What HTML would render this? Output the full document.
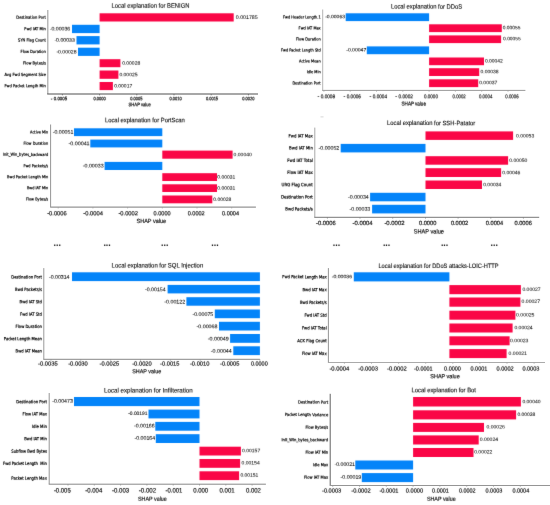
<!DOCTYPE html>
<html lang="en">
<head>
<meta charset="utf-8">
<title>Local SHAP explanations</title>
<style>
html,body{margin:0;padding:0;background:#fff;}
body{width:550px;height:505px;overflow:hidden;font-family:"Liberation Sans",sans-serif;}
svg{display:block;}
text{white-space:pre;}
</style>
</head>
<body>
<svg width="550" height="505" viewBox="0 0 550 505" xml:space="preserve">
<defs><filter id="soft" x="0" y="0" width="550" height="505" filterUnits="userSpaceOnUse" color-interpolation-filters="sRGB"><feConvolveMatrix order="3" kernelMatrix="0.0049 0.0602 0.0049 0.0602 0.7396 0.0602 0.0049 0.0602 0.0049" divisor="1" edgeMode="duplicate" preserveAlpha="false"/></filter></defs>
<rect x="0" y="0" width="550" height="505" fill="#ffffff"/>
<g filter="url(#soft)">
<g>
<rect x="99.60" y="13.30" width="134.10" height="8.20" fill="#fa0646"/>
<rect x="72.00" y="24.80" width="27.60" height="8.30" fill="#0484f9"/>
<rect x="76.50" y="36.10" width="23.10" height="8.30" fill="#0484f9"/>
<rect x="78.00" y="47.70" width="21.60" height="8.20" fill="#0484f9"/>
<rect x="99.60" y="59.20" width="20.80" height="8.00" fill="#fa0646"/>
<rect x="99.60" y="70.50" width="18.80" height="8.30" fill="#fa0646"/>
<rect x="99.60" y="82.00" width="13.30" height="8.10" fill="#fa0646"/>
<text x="111.60" y="7.80" font-family="'Liberation Sans', sans-serif" font-size="6.40" font-weight="normal" fill="#0a0a0a" stroke="#0a0a0a" stroke-width="0.12" text-anchor="start" transform="rotate(0.04 111.60 7.80)" textLength="77.80" lengthAdjust="spacingAndGlyphs">Local explanation for BENIGN</text>
<text x="16.30" y="18.65" font-family="'DejaVu Sans', sans-serif" font-size="4.18" font-weight="normal" fill="#000" stroke="#000" stroke-width="0.2" text-anchor="start" transform="rotate(0.04 16.30 18.65)" textLength="29.60" lengthAdjust="spacingAndGlyphs">Destination Port</text>
<text x="235.80" y="19.04" font-family="'Liberation Sans', sans-serif" font-size="5.25" font-weight="normal" fill="#0a0a0a" stroke="#0a0a0a" stroke-width="0.05" text-anchor="start" transform="rotate(0.04 235.80 19.04)" textLength="21.90" lengthAdjust="spacingAndGlyphs">0.001785</text>
<text x="24.30" y="30.20" font-family="'DejaVu Sans', sans-serif" font-size="4.18" font-weight="normal" fill="#000" stroke="#000" stroke-width="0.2" text-anchor="start" transform="rotate(0.04 24.30 30.20)" textLength="21.60" lengthAdjust="spacingAndGlyphs">Fwd IAT Min</text>
<text x="49.70" y="30.57" font-family="'Liberation Sans', sans-serif" font-size="5.19" font-weight="normal" fill="#0a0a0a" stroke="#0a0a0a" stroke-width="0.08" text-anchor="start" transform="rotate(0.04 49.70 30.57)" textLength="20.50" lengthAdjust="spacingAndGlyphs">-0.00036</text>
<text x="18.10" y="41.50" font-family="'DejaVu Sans', sans-serif" font-size="4.18" font-weight="normal" fill="#000" stroke="#000" stroke-width="0.2" text-anchor="start" transform="rotate(0.04 18.10 41.50)" textLength="27.80" lengthAdjust="spacingAndGlyphs">SYN Flag Count</text>
<text x="54.40" y="41.86" font-family="'Liberation Sans', sans-serif" font-size="5.17" font-weight="normal" fill="#0a0a0a" stroke="#0a0a0a" stroke-width="0.08" text-anchor="start" transform="rotate(0.04 54.40 41.86)" textLength="20.40" lengthAdjust="spacingAndGlyphs">-0.00033</text>
<text x="20.60" y="53.05" font-family="'DejaVu Sans', sans-serif" font-size="4.18" font-weight="normal" fill="#000" stroke="#000" stroke-width="0.2" text-anchor="start" transform="rotate(0.04 20.60 53.05)" textLength="25.30" lengthAdjust="spacingAndGlyphs">Flow Duration</text>
<text x="56.40" y="53.38" font-family="'Liberation Sans', sans-serif" font-size="5.09" font-weight="normal" fill="#0a0a0a" stroke="#0a0a0a" stroke-width="0.08" text-anchor="start" transform="rotate(0.04 56.40 53.38)" textLength="20.10" lengthAdjust="spacingAndGlyphs">-0.00028</text>
<text x="23.10" y="64.45" font-family="'DejaVu Sans', sans-serif" font-size="4.18" font-weight="normal" fill="#000" stroke="#000" stroke-width="0.2" text-anchor="start" transform="rotate(0.04 23.10 64.45)" textLength="22.80" lengthAdjust="spacingAndGlyphs">Flow Bytes/s</text>
<text x="122.20" y="64.74" font-family="'Liberation Sans', sans-serif" font-size="4.98" font-weight="normal" fill="#0a0a0a" stroke="#0a0a0a" stroke-width="0.05" text-anchor="start" transform="rotate(0.04 122.20 64.74)" textLength="18.00" lengthAdjust="spacingAndGlyphs">0.00028</text>
<text x="4.50" y="75.90" font-family="'DejaVu Sans', sans-serif" font-size="4.18" font-weight="normal" fill="#000" stroke="#000" stroke-width="0.2" text-anchor="start" transform="rotate(0.04 4.50 75.90)" textLength="41.40" lengthAdjust="spacingAndGlyphs">Avg Fwd Segment Size</text>
<text x="119.40" y="76.20" font-family="'Liberation Sans', sans-serif" font-size="5.01" font-weight="normal" fill="#0a0a0a" stroke="#0a0a0a" stroke-width="0.05" text-anchor="start" transform="rotate(0.04 119.40 76.20)" textLength="18.10" lengthAdjust="spacingAndGlyphs">0.00025</text>
<text x="4.50" y="87.30" font-family="'DejaVu Sans', sans-serif" font-size="4.18" font-weight="normal" fill="#000" stroke="#000" stroke-width="0.2" text-anchor="start" transform="rotate(0.04 4.50 87.30)" textLength="41.40" lengthAdjust="spacingAndGlyphs">Fwd Packet Length Min</text>
<text x="114.20" y="87.59" font-family="'Liberation Sans', sans-serif" font-size="4.98" font-weight="normal" fill="#0a0a0a" stroke="#0a0a0a" stroke-width="0.05" text-anchor="start" transform="rotate(0.04 114.20 87.59)" textLength="18.00" lengthAdjust="spacingAndGlyphs">0.00017</text>
<text x="50.80" y="100.20" transform="rotate(0.04 50.80 98.40)" font-family="'Liberation Sans', sans-serif" font-size="4.99" fill="#0a0a0a" stroke="#0a0a0a" stroke-width="0.2">-<tspan x="53.79" textLength="13.31" lengthAdjust="spacingAndGlyphs">0.0005</tspan></text>
<text x="93.40" y="100.20" font-family="'Liberation Sans', sans-serif" font-size="4.99" font-weight="normal" fill="#0a0a0a" stroke="#0a0a0a" stroke-width="0.2" text-anchor="start" transform="rotate(0.04 93.40 100.20)" textLength="12.30" lengthAdjust="spacingAndGlyphs">0.0000</text>
<text x="130.30" y="100.20" font-family="'Liberation Sans', sans-serif" font-size="4.99" font-weight="normal" fill="#0a0a0a" stroke="#0a0a0a" stroke-width="0.2" text-anchor="start" transform="rotate(0.04 130.30 100.20)" textLength="12.10" lengthAdjust="spacingAndGlyphs">0.0005</text>
<text x="169.50" y="100.20" font-family="'Liberation Sans', sans-serif" font-size="4.99" font-weight="normal" fill="#0a0a0a" stroke="#0a0a0a" stroke-width="0.2" text-anchor="start" transform="rotate(0.04 169.50 100.20)" textLength="12.20" lengthAdjust="spacingAndGlyphs">0.0010</text>
<text x="205.90" y="100.20" font-family="'Liberation Sans', sans-serif" font-size="4.99" font-weight="normal" fill="#0a0a0a" stroke="#0a0a0a" stroke-width="0.2" text-anchor="start" transform="rotate(0.04 205.90 100.20)" textLength="12.20" lengthAdjust="spacingAndGlyphs">0.0015</text>
<text x="242.30" y="100.20" font-family="'Liberation Sans', sans-serif" font-size="4.99" font-weight="normal" fill="#0a0a0a" stroke="#0a0a0a" stroke-width="0.2" text-anchor="start" transform="rotate(0.04 242.30 100.20)" textLength="12.20" lengthAdjust="spacingAndGlyphs">0.0020</text>
<text x="128.60" y="106.22" font-family="'Liberation Sans', sans-serif" font-size="5.06" font-weight="normal" fill="#0a0a0a" stroke="#0a0a0a" stroke-width="0.2" text-anchor="start" transform="rotate(0.04 128.60 106.22)" textLength="22.30" lengthAdjust="spacingAndGlyphs">SHAP value</text>
</g>
<g>
<rect x="345.70" y="13.30" width="83.40" height="7.80" fill="#0484f9"/>
<rect x="429.10" y="24.30" width="72.70" height="7.80" fill="#fa0646"/>
<rect x="429.10" y="35.40" width="72.00" height="7.70" fill="#fa0646"/>
<rect x="366.80" y="46.40" width="62.30" height="7.80" fill="#0484f9"/>
<rect x="429.10" y="57.50" width="54.90" height="7.70" fill="#fa0646"/>
<rect x="429.10" y="68.20" width="50.10" height="7.80" fill="#fa0646"/>
<rect x="429.10" y="79.30" width="49.10" height="7.80" fill="#fa0646"/>
<text x="390.90" y="8.60" font-family="'Liberation Sans', sans-serif" font-size="6.40" font-weight="normal" fill="#0a0a0a" stroke="#0a0a0a" stroke-width="0.12" text-anchor="start" transform="rotate(0.04 390.90 8.60)" textLength="71.30" lengthAdjust="spacingAndGlyphs">Local explanation for DDoS</text>
<text x="283.10" y="18.41" font-family="'DejaVu Sans', sans-serif" font-size="4.06" font-weight="normal" fill="#000" stroke="#000" stroke-width="0.2" text-anchor="start" transform="rotate(0.04 283.10 18.41)" textLength="37.60" lengthAdjust="spacingAndGlyphs">Fwd Header Length.1</text>
<text x="325.20" y="18.36" font-family="'Liberation Sans', sans-serif" font-size="5.02" font-weight="normal" fill="#0a0a0a" stroke="#0a0a0a" stroke-width="0.08" text-anchor="start" transform="rotate(0.04 325.20 18.36)" textLength="19.80" lengthAdjust="spacingAndGlyphs">-0.00063</text>
<text x="298.60" y="29.41" font-family="'DejaVu Sans', sans-serif" font-size="4.06" font-weight="normal" fill="#000" stroke="#000" stroke-width="0.2" text-anchor="start" transform="rotate(0.04 298.60 29.41)" textLength="22.10" lengthAdjust="spacingAndGlyphs">Fwd IAT Max</text>
<text x="502.80" y="29.30" font-family="'Liberation Sans', sans-serif" font-size="4.87" font-weight="normal" fill="#0a0a0a" stroke="#0a0a0a" stroke-width="0.05" text-anchor="start" transform="rotate(0.04 502.80 29.30)" textLength="17.60" lengthAdjust="spacingAndGlyphs">0.00055</text>
<text x="296.10" y="40.46" font-family="'DejaVu Sans', sans-serif" font-size="4.06" font-weight="normal" fill="#000" stroke="#000" stroke-width="0.2" text-anchor="start" transform="rotate(0.04 296.10 40.46)" textLength="24.60" lengthAdjust="spacingAndGlyphs">Flow Duration</text>
<text x="503.10" y="40.34" font-family="'Liberation Sans', sans-serif" font-size="4.84" font-weight="normal" fill="#0a0a0a" stroke="#0a0a0a" stroke-width="0.05" text-anchor="start" transform="rotate(0.04 503.10 40.34)" textLength="17.50" lengthAdjust="spacingAndGlyphs">0.00055</text>
<text x="281.10" y="51.51" font-family="'DejaVu Sans', sans-serif" font-size="4.06" font-weight="normal" fill="#000" stroke="#000" stroke-width="0.2" text-anchor="start" transform="rotate(0.04 281.10 51.51)" textLength="39.60" lengthAdjust="spacingAndGlyphs">Fwd Packet Length Std</text>
<text x="346.20" y="51.48" font-family="'Liberation Sans', sans-serif" font-size="5.09" font-weight="normal" fill="#0a0a0a" stroke="#0a0a0a" stroke-width="0.08" text-anchor="start" transform="rotate(0.04 346.20 51.48)" textLength="20.10" lengthAdjust="spacingAndGlyphs">-0.00047</text>
<text x="299.10" y="62.56" font-family="'DejaVu Sans', sans-serif" font-size="4.06" font-weight="normal" fill="#000" stroke="#000" stroke-width="0.2" text-anchor="start" transform="rotate(0.04 299.10 62.56)" textLength="21.60" lengthAdjust="spacingAndGlyphs">Active Mean</text>
<text x="485.00" y="62.47" font-family="'Liberation Sans', sans-serif" font-size="4.92" font-weight="normal" fill="#0a0a0a" stroke="#0a0a0a" stroke-width="0.05" text-anchor="start" transform="rotate(0.04 485.00 62.47)" textLength="17.80" lengthAdjust="spacingAndGlyphs">0.00042</text>
<text x="306.70" y="73.31" font-family="'DejaVu Sans', sans-serif" font-size="4.06" font-weight="normal" fill="#000" stroke="#000" stroke-width="0.2" text-anchor="start" transform="rotate(0.04 306.70 73.31)" textLength="14.00" lengthAdjust="spacingAndGlyphs">Idle Min</text>
<text x="480.50" y="73.25" font-family="'Liberation Sans', sans-serif" font-size="5.01" font-weight="normal" fill="#0a0a0a" stroke="#0a0a0a" stroke-width="0.05" text-anchor="start" transform="rotate(0.04 480.50 73.25)" textLength="18.10" lengthAdjust="spacingAndGlyphs">0.00038</text>
<text x="292.40" y="84.41" font-family="'DejaVu Sans', sans-serif" font-size="4.06" font-weight="normal" fill="#000" stroke="#000" stroke-width="0.2" text-anchor="start" transform="rotate(0.04 292.40 84.41)" textLength="28.30" lengthAdjust="spacingAndGlyphs">Destination Port</text>
<text x="479.20" y="84.35" font-family="'Liberation Sans', sans-serif" font-size="5.01" font-weight="normal" fill="#0a0a0a" stroke="#0a0a0a" stroke-width="0.05" text-anchor="start" transform="rotate(0.04 479.20 84.35)" textLength="18.10" lengthAdjust="spacingAndGlyphs">0.00037</text>
<text x="317.50" y="98.37" transform="rotate(0.04 317.50 96.40)" font-family="'Liberation Sans', sans-serif" font-size="5.47" fill="#0a0a0a" stroke="#0a0a0a" stroke-width="0.16">-<tspan x="320.78" textLength="14.32" lengthAdjust="spacingAndGlyphs">0.0008</tspan></text>
<text x="343.40" y="98.37" transform="rotate(0.04 343.40 96.40)" font-family="'Liberation Sans', sans-serif" font-size="5.47" fill="#0a0a0a" stroke="#0a0a0a" stroke-width="0.16">-<tspan x="346.68" textLength="14.22" lengthAdjust="spacingAndGlyphs">0.0006</tspan></text>
<text x="369.50" y="98.37" transform="rotate(0.04 369.50 96.40)" font-family="'Liberation Sans', sans-serif" font-size="5.47" fill="#0a0a0a" stroke="#0a0a0a" stroke-width="0.16">-<tspan x="372.78" textLength="14.22" lengthAdjust="spacingAndGlyphs">0.0004</tspan></text>
<text x="395.30" y="98.37" transform="rotate(0.04 395.30 96.40)" font-family="'Liberation Sans', sans-serif" font-size="5.47" fill="#0a0a0a" stroke="#0a0a0a" stroke-width="0.16">-<tspan x="398.58" textLength="14.32" lengthAdjust="spacingAndGlyphs">0.0002</tspan></text>
<text x="424.10" y="98.37" font-family="'Liberation Sans', sans-serif" font-size="5.47" font-weight="normal" fill="#0a0a0a" stroke="#0a0a0a" stroke-width="0.16" text-anchor="start" transform="rotate(0.04 424.10 98.37)" textLength="13.80" lengthAdjust="spacingAndGlyphs">0.0000</text>
<text x="452.60" y="98.37" font-family="'Liberation Sans', sans-serif" font-size="5.47" font-weight="normal" fill="#0a0a0a" stroke="#0a0a0a" stroke-width="0.16" text-anchor="start" transform="rotate(0.04 452.60 98.37)" textLength="13.10" lengthAdjust="spacingAndGlyphs">0.0002</text>
<text x="479.00" y="98.37" font-family="'Liberation Sans', sans-serif" font-size="5.47" font-weight="normal" fill="#0a0a0a" stroke="#0a0a0a" stroke-width="0.16" text-anchor="start" transform="rotate(0.04 479.00 98.37)" textLength="13.30" lengthAdjust="spacingAndGlyphs">0.0004</text>
<text x="505.30" y="98.37" font-family="'Liberation Sans', sans-serif" font-size="5.47" font-weight="normal" fill="#0a0a0a" stroke="#0a0a0a" stroke-width="0.16" text-anchor="start" transform="rotate(0.04 505.30 98.37)" textLength="13.30" lengthAdjust="spacingAndGlyphs">0.0006</text>
<text x="401.60" y="105.57" font-family="'Liberation Sans', sans-serif" font-size="5.52" font-weight="normal" fill="#0a0a0a" stroke="#0a0a0a" stroke-width="0.2" text-anchor="start" transform="rotate(0.04 401.60 105.57)" textLength="24.30" lengthAdjust="spacingAndGlyphs">SHAP value</text>
</g>
<g>
<rect x="74.00" y="128.30" width="88.30" height="7.80" fill="#0484f9"/>
<rect x="90.30" y="139.60" width="72.00" height="7.80" fill="#0484f9"/>
<rect x="162.30" y="150.60" width="70.30" height="8.10" fill="#fa0646"/>
<rect x="104.60" y="161.90" width="57.70" height="8.10" fill="#0484f9"/>
<rect x="162.30" y="173.20" width="54.70" height="7.80" fill="#fa0646"/>
<rect x="162.30" y="184.30" width="54.70" height="7.70" fill="#fa0646"/>
<rect x="162.30" y="195.50" width="50.00" height="7.80" fill="#fa0646"/>
<text x="104.90" y="122.30" font-family="'Liberation Sans', sans-serif" font-size="6.40" font-weight="normal" fill="#0a0a0a" stroke="#0a0a0a" stroke-width="0.12" text-anchor="start" transform="rotate(0.04 104.90 122.30)" textLength="80.00" lengthAdjust="spacingAndGlyphs">Local explanation for PortScan</text>
<text x="30.10" y="133.41" font-family="'DejaVu Sans', sans-serif" font-size="4.08" font-weight="normal" fill="#000" stroke="#000" stroke-width="0.2" text-anchor="start" transform="rotate(0.04 30.10 133.41)" textLength="18.10" lengthAdjust="spacingAndGlyphs">Active Min</text>
<text x="52.70" y="133.83" font-family="'Liberation Sans', sans-serif" font-size="5.22" font-weight="normal" fill="#0a0a0a" stroke="#0a0a0a" stroke-width="0.08" text-anchor="start" transform="rotate(0.04 52.70 133.83)" textLength="20.60" lengthAdjust="spacingAndGlyphs">-0.00051</text>
<text x="23.40" y="144.71" font-family="'DejaVu Sans', sans-serif" font-size="4.08" font-weight="normal" fill="#000" stroke="#000" stroke-width="0.2" text-anchor="start" transform="rotate(0.04 23.40 144.71)" textLength="24.80" lengthAdjust="spacingAndGlyphs">Flow Duration</text>
<text x="68.50" y="145.17" font-family="'Liberation Sans', sans-serif" font-size="5.35" font-weight="normal" fill="#0a0a0a" stroke="#0a0a0a" stroke-width="0.08" text-anchor="start" transform="rotate(0.04 68.50 145.17)" textLength="21.10" lengthAdjust="spacingAndGlyphs">-0.00041</text>
<text x="3.00" y="155.86" font-family="'DejaVu Sans', sans-serif" font-size="4.08" font-weight="normal" fill="#000" stroke="#000" stroke-width="0.2" text-anchor="start" transform="rotate(0.04 3.00 155.86)" textLength="45.20" lengthAdjust="spacingAndGlyphs">Init_Win_bytes_backward</text>
<text x="233.60" y="156.21" font-family="'Liberation Sans', sans-serif" font-size="5.04" font-weight="normal" fill="#0a0a0a" stroke="#0a0a0a" stroke-width="0.05" text-anchor="start" transform="rotate(0.04 233.60 156.21)" textLength="18.20" lengthAdjust="spacingAndGlyphs">0.00040</text>
<text x="23.40" y="167.16" font-family="'DejaVu Sans', sans-serif" font-size="4.08" font-weight="normal" fill="#000" stroke="#000" stroke-width="0.2" text-anchor="start" transform="rotate(0.04 23.40 167.16)" textLength="24.80" lengthAdjust="spacingAndGlyphs">Fwd Packets/s</text>
<text x="82.80" y="167.60" font-family="'Liberation Sans', sans-serif" font-size="5.27" font-weight="normal" fill="#0a0a0a" stroke="#0a0a0a" stroke-width="0.08" text-anchor="start" transform="rotate(0.04 82.80 167.60)" textLength="20.80" lengthAdjust="spacingAndGlyphs">-0.00033</text>
<text x="7.10" y="178.31" font-family="'DejaVu Sans', sans-serif" font-size="4.08" font-weight="normal" fill="#000" stroke="#000" stroke-width="0.2" text-anchor="start" transform="rotate(0.04 7.10 178.31)" textLength="41.10" lengthAdjust="spacingAndGlyphs">Bwd Packet Length Min</text>
<text x="217.30" y="178.64" font-family="'Liberation Sans', sans-serif" font-size="4.98" font-weight="normal" fill="#0a0a0a" stroke="#0a0a0a" stroke-width="0.05" text-anchor="start" transform="rotate(0.04 217.30 178.64)" textLength="18.00" lengthAdjust="spacingAndGlyphs">0.00031</text>
<text x="26.90" y="189.36" font-family="'DejaVu Sans', sans-serif" font-size="4.08" font-weight="normal" fill="#000" stroke="#000" stroke-width="0.2" text-anchor="start" transform="rotate(0.04 26.90 189.36)" textLength="21.30" lengthAdjust="spacingAndGlyphs">Bwd IAT Min</text>
<text x="217.30" y="189.69" font-family="'Liberation Sans', sans-serif" font-size="4.98" font-weight="normal" fill="#0a0a0a" stroke="#0a0a0a" stroke-width="0.05" text-anchor="start" transform="rotate(0.04 217.30 189.69)" textLength="18.00" lengthAdjust="spacingAndGlyphs">0.00031</text>
<text x="25.90" y="200.61" font-family="'DejaVu Sans', sans-serif" font-size="4.08" font-weight="normal" fill="#000" stroke="#000" stroke-width="0.2" text-anchor="start" transform="rotate(0.04 25.90 200.61)" textLength="22.30" lengthAdjust="spacingAndGlyphs">Flow Bytes/s</text>
<text x="213.30" y="200.94" font-family="'Liberation Sans', sans-serif" font-size="4.98" font-weight="normal" fill="#0a0a0a" stroke="#0a0a0a" stroke-width="0.05" text-anchor="start" transform="rotate(0.04 213.30 200.94)" textLength="18.00" lengthAdjust="spacingAndGlyphs">0.00028</text>
<text x="47.20" y="215.23" font-family="'Liberation Sans', sans-serif" font-size="5.90" font-weight="normal" fill="#0a0a0a" stroke="#0a0a0a" stroke-width="0.16" text-anchor="start" transform="rotate(0.04 47.20 215.23)" textLength="19.50" lengthAdjust="spacingAndGlyphs">-0.0006</text>
<text x="83.30" y="215.23" font-family="'Liberation Sans', sans-serif" font-size="5.90" font-weight="normal" fill="#0a0a0a" stroke="#0a0a0a" stroke-width="0.16" text-anchor="start" transform="rotate(0.04 83.30 215.23)" textLength="19.60" lengthAdjust="spacingAndGlyphs">-0.0004</text>
<text x="118.40" y="215.23" font-family="'Liberation Sans', sans-serif" font-size="5.90" font-weight="normal" fill="#0a0a0a" stroke="#0a0a0a" stroke-width="0.16" text-anchor="start" transform="rotate(0.04 118.40 215.23)" textLength="19.60" lengthAdjust="spacingAndGlyphs">-0.0002</text>
<text x="153.60" y="215.23" font-family="'Liberation Sans', sans-serif" font-size="5.90" font-weight="normal" fill="#0a0a0a" stroke="#0a0a0a" stroke-width="0.16" text-anchor="start" transform="rotate(0.04 153.60 215.23)" textLength="17.00" lengthAdjust="spacingAndGlyphs">0.0000</text>
<text x="187.70" y="215.23" font-family="'Liberation Sans', sans-serif" font-size="5.90" font-weight="normal" fill="#0a0a0a" stroke="#0a0a0a" stroke-width="0.16" text-anchor="start" transform="rotate(0.04 187.70 215.23)" textLength="17.00" lengthAdjust="spacingAndGlyphs">0.0002</text>
<text x="222.00" y="215.23" font-family="'Liberation Sans', sans-serif" font-size="5.90" font-weight="normal" fill="#0a0a0a" stroke="#0a0a0a" stroke-width="0.16" text-anchor="start" transform="rotate(0.04 222.00 215.23)" textLength="17.10" lengthAdjust="spacingAndGlyphs">0.0004</text>
<text x="136.50" y="222.90" font-family="'Liberation Sans', sans-serif" font-size="5.95" font-weight="normal" fill="#0a0a0a" stroke="#0a0a0a" stroke-width="0.16" text-anchor="start" transform="rotate(0.04 136.50 222.90)" textLength="29.60" lengthAdjust="spacingAndGlyphs">SHAP value</text>
</g>
<g>
<rect x="425.50" y="131.40" width="87.60" height="8.50" fill="#fa0646"/>
<rect x="340.70" y="143.90" width="84.80" height="8.50" fill="#0484f9"/>
<rect x="425.50" y="156.20" width="82.60" height="8.50" fill="#fa0646"/>
<rect x="425.50" y="168.20" width="75.60" height="8.80" fill="#fa0646"/>
<rect x="425.50" y="180.50" width="56.50" height="8.50" fill="#fa0646"/>
<rect x="370.10" y="192.80" width="55.40" height="8.50" fill="#0484f9"/>
<rect x="372.10" y="204.80" width="53.40" height="8.60" fill="#0484f9"/>
<text x="387.10" y="125.10" font-family="'Liberation Sans', sans-serif" font-size="6.40" font-weight="normal" fill="#0a0a0a" stroke="#0a0a0a" stroke-width="0.12" text-anchor="start" transform="rotate(0.04 387.10 125.10)" textLength="88.10" lengthAdjust="spacingAndGlyphs">Local explanation for SSH-Patator</text>
<text x="288.60" y="137.50" font-family="'DejaVu Sans', sans-serif" font-size="4.52" font-weight="normal" fill="#000" stroke="#000" stroke-width="0.2" text-anchor="start" transform="rotate(0.04 288.60 137.50)" textLength="24.30" lengthAdjust="spacingAndGlyphs">Fwd IAT Max</text>
<text x="516.10" y="137.60" font-family="'Liberation Sans', sans-serif" font-size="5.01" font-weight="normal" fill="#0a0a0a" stroke="#0a0a0a" stroke-width="0.05" text-anchor="start" transform="rotate(0.04 516.10 137.60)" textLength="18.10" lengthAdjust="spacingAndGlyphs">0.00053</text>
<text x="289.10" y="149.60" font-family="'DejaVu Sans', sans-serif" font-size="4.52" font-weight="normal" fill="#000" stroke="#000" stroke-width="0.2" text-anchor="start" transform="rotate(0.04 289.10 149.60)" textLength="23.80" lengthAdjust="spacingAndGlyphs">Bwd IAT Min</text>
<text x="318.60" y="149.78" font-family="'Liberation Sans', sans-serif" font-size="5.22" font-weight="normal" fill="#0a0a0a" stroke="#0a0a0a" stroke-width="0.08" text-anchor="start" transform="rotate(0.04 318.60 149.78)" textLength="20.60" lengthAdjust="spacingAndGlyphs">-0.00052</text>
<text x="287.30" y="161.90" font-family="'DejaVu Sans', sans-serif" font-size="4.52" font-weight="normal" fill="#000" stroke="#000" stroke-width="0.2" text-anchor="start" transform="rotate(0.04 287.30 161.90)" textLength="25.60" lengthAdjust="spacingAndGlyphs">Fwd IAT Total</text>
<text x="509.30" y="162.00" font-family="'Liberation Sans', sans-serif" font-size="5.01" font-weight="normal" fill="#0a0a0a" stroke="#0a0a0a" stroke-width="0.05" text-anchor="start" transform="rotate(0.04 509.30 162.00)" textLength="18.10" lengthAdjust="spacingAndGlyphs">0.00050</text>
<text x="287.30" y="174.05" font-family="'DejaVu Sans', sans-serif" font-size="4.52" font-weight="normal" fill="#000" stroke="#000" stroke-width="0.2" text-anchor="start" transform="rotate(0.04 287.30 174.05)" textLength="25.60" lengthAdjust="spacingAndGlyphs">Flow IAT Max</text>
<text x="502.30" y="174.15" font-family="'Liberation Sans', sans-serif" font-size="5.01" font-weight="normal" fill="#0a0a0a" stroke="#0a0a0a" stroke-width="0.05" text-anchor="start" transform="rotate(0.04 502.30 174.15)" textLength="18.10" lengthAdjust="spacingAndGlyphs">0.00046</text>
<text x="281.50" y="186.20" font-family="'DejaVu Sans', sans-serif" font-size="4.52" font-weight="normal" fill="#000" stroke="#000" stroke-width="0.2" text-anchor="start" transform="rotate(0.04 281.50 186.20)" textLength="31.40" lengthAdjust="spacingAndGlyphs">URG Flag Count</text>
<text x="483.20" y="186.30" font-family="'Liberation Sans', sans-serif" font-size="5.01" font-weight="normal" fill="#0a0a0a" stroke="#0a0a0a" stroke-width="0.05" text-anchor="start" transform="rotate(0.04 483.20 186.30)" textLength="18.10" lengthAdjust="spacingAndGlyphs">0.00034</text>
<text x="281.00" y="198.50" font-family="'DejaVu Sans', sans-serif" font-size="4.52" font-weight="normal" fill="#000" stroke="#000" stroke-width="0.2" text-anchor="start" transform="rotate(0.04 281.00 198.50)" textLength="31.90" lengthAdjust="spacingAndGlyphs">Destination Port</text>
<text x="348.00" y="198.70" font-family="'Liberation Sans', sans-serif" font-size="5.27" font-weight="normal" fill="#0a0a0a" stroke="#0a0a0a" stroke-width="0.08" text-anchor="start" transform="rotate(0.04 348.00 198.70)" textLength="20.80" lengthAdjust="spacingAndGlyphs">-0.00034</text>
<text x="285.30" y="210.55" font-family="'DejaVu Sans', sans-serif" font-size="4.52" font-weight="normal" fill="#000" stroke="#000" stroke-width="0.2" text-anchor="start" transform="rotate(0.04 285.30 210.55)" textLength="27.60" lengthAdjust="spacingAndGlyphs">Bwd Packets/s</text>
<text x="349.50" y="210.75" font-family="'Liberation Sans', sans-serif" font-size="5.27" font-weight="normal" fill="#0a0a0a" stroke="#0a0a0a" stroke-width="0.08" text-anchor="start" transform="rotate(0.04 349.50 210.75)" textLength="20.80" lengthAdjust="spacingAndGlyphs">-0.00033</text>
<text x="316.10" y="225.06" font-family="'Liberation Sans', sans-serif" font-size="6.01" font-weight="normal" fill="#0a0a0a" stroke="#0a0a0a" stroke-width="0.16" text-anchor="start" transform="rotate(0.04 316.10 225.06)" textLength="19.60" lengthAdjust="spacingAndGlyphs">-0.0006</text>
<text x="352.50" y="225.06" font-family="'Liberation Sans', sans-serif" font-size="6.01" font-weight="normal" fill="#0a0a0a" stroke="#0a0a0a" stroke-width="0.16" text-anchor="start" transform="rotate(0.04 352.50 225.06)" textLength="20.10" lengthAdjust="spacingAndGlyphs">-0.0004</text>
<text x="384.40" y="225.06" font-family="'Liberation Sans', sans-serif" font-size="6.01" font-weight="normal" fill="#0a0a0a" stroke="#0a0a0a" stroke-width="0.16" text-anchor="start" transform="rotate(0.04 384.40 225.06)" textLength="20.10" lengthAdjust="spacingAndGlyphs">-0.0002</text>
<text x="419.00" y="225.06" font-family="'Liberation Sans', sans-serif" font-size="6.01" font-weight="normal" fill="#0a0a0a" stroke="#0a0a0a" stroke-width="0.16" text-anchor="start" transform="rotate(0.04 419.00 225.06)" textLength="17.30" lengthAdjust="spacingAndGlyphs">0.0000</text>
<text x="450.90" y="225.06" font-family="'Liberation Sans', sans-serif" font-size="6.01" font-weight="normal" fill="#0a0a0a" stroke="#0a0a0a" stroke-width="0.16" text-anchor="start" transform="rotate(0.04 450.90 225.06)" textLength="17.30" lengthAdjust="spacingAndGlyphs">0.0002</text>
<text x="485.80" y="225.06" font-family="'Liberation Sans', sans-serif" font-size="6.01" font-weight="normal" fill="#0a0a0a" stroke="#0a0a0a" stroke-width="0.16" text-anchor="start" transform="rotate(0.04 485.80 225.06)" textLength="17.30" lengthAdjust="spacingAndGlyphs">0.0004</text>
<text x="514.40" y="225.06" font-family="'Liberation Sans', sans-serif" font-size="6.01" font-weight="normal" fill="#0a0a0a" stroke="#0a0a0a" stroke-width="0.16" text-anchor="start" transform="rotate(0.04 514.40 225.06)" textLength="17.50" lengthAdjust="spacingAndGlyphs">0.0006</text>
<text x="413.80" y="233.54" font-family="'Liberation Sans', sans-serif" font-size="6.05" font-weight="normal" fill="#0a0a0a" stroke="#0a0a0a" stroke-width="0.16" text-anchor="start" transform="rotate(0.04 413.80 233.54)" textLength="30.10" lengthAdjust="spacingAndGlyphs">SHAP value</text>
</g>
<g>
<rect x="72.00" y="272.30" width="187.90" height="8.80" fill="#0484f9"/>
<rect x="167.60" y="284.90" width="92.30" height="8.50" fill="#0484f9"/>
<rect x="186.40" y="297.20" width="73.50" height="8.50" fill="#0484f9"/>
<rect x="214.80" y="309.50" width="45.10" height="8.70" fill="#0484f9"/>
<rect x="219.00" y="321.80" width="40.90" height="8.70" fill="#0484f9"/>
<rect x="230.10" y="334.00" width="29.80" height="8.80" fill="#0484f9"/>
<rect x="233.30" y="346.30" width="26.60" height="8.80" fill="#0484f9"/>
<text x="111.60" y="267.40" font-family="'Liberation Sans', sans-serif" font-size="6.40" font-weight="normal" fill="#0a0a0a" stroke="#0a0a0a" stroke-width="0.12" text-anchor="start" transform="rotate(0.04 111.60 267.40)" textLength="91.60" lengthAdjust="spacingAndGlyphs">Local explanation for SQL Injection</text>
<text x="11.30" y="278.49" font-family="'DejaVu Sans', sans-serif" font-size="4.33" font-weight="normal" fill="#000" stroke="#000" stroke-width="0.2" text-anchor="start" transform="rotate(0.04 11.30 278.49)" textLength="30.60" lengthAdjust="spacingAndGlyphs">Destination Port</text>
<text x="48.90" y="278.73" font-family="'Liberation Sans', sans-serif" font-size="5.22" font-weight="normal" fill="#0a0a0a" stroke="#0a0a0a" stroke-width="0.08" text-anchor="start" transform="rotate(0.04 48.90 278.73)" textLength="20.60" lengthAdjust="spacingAndGlyphs">-0.00314</text>
<text x="15.10" y="290.94" font-family="'DejaVu Sans', sans-serif" font-size="4.33" font-weight="normal" fill="#000" stroke="#000" stroke-width="0.2" text-anchor="start" transform="rotate(0.04 15.10 290.94)" textLength="26.80" lengthAdjust="spacingAndGlyphs">Bwd Packets/s</text>
<text x="145.00" y="291.18" font-family="'Liberation Sans', sans-serif" font-size="5.22" font-weight="normal" fill="#0a0a0a" stroke="#0a0a0a" stroke-width="0.08" text-anchor="start" transform="rotate(0.04 145.00 291.18)" textLength="20.60" lengthAdjust="spacingAndGlyphs">-0.00154</text>
<text x="19.60" y="303.24" font-family="'DejaVu Sans', sans-serif" font-size="4.33" font-weight="normal" fill="#000" stroke="#000" stroke-width="0.2" text-anchor="start" transform="rotate(0.04 19.60 303.24)" textLength="22.30" lengthAdjust="spacingAndGlyphs">Bwd IAT Std</text>
<text x="164.30" y="303.51" font-family="'Liberation Sans', sans-serif" font-size="5.29" font-weight="normal" fill="#0a0a0a" stroke="#0a0a0a" stroke-width="0.08" text-anchor="start" transform="rotate(0.04 164.30 303.51)" textLength="20.90" lengthAdjust="spacingAndGlyphs">-0.00122</text>
<text x="20.10" y="315.64" font-family="'DejaVu Sans', sans-serif" font-size="4.33" font-weight="normal" fill="#000" stroke="#000" stroke-width="0.2" text-anchor="start" transform="rotate(0.04 20.10 315.64)" textLength="21.80" lengthAdjust="spacingAndGlyphs">Fwd IAT Std</text>
<text x="192.40" y="315.91" font-family="'Liberation Sans', sans-serif" font-size="5.29" font-weight="normal" fill="#0a0a0a" stroke="#0a0a0a" stroke-width="0.08" text-anchor="start" transform="rotate(0.04 192.40 315.91)" textLength="20.90" lengthAdjust="spacingAndGlyphs">-0.00075</text>
<text x="15.60" y="327.94" font-family="'DejaVu Sans', sans-serif" font-size="4.33" font-weight="normal" fill="#000" stroke="#000" stroke-width="0.2" text-anchor="start" transform="rotate(0.04 15.60 327.94)" textLength="26.30" lengthAdjust="spacingAndGlyphs">Flow Duration</text>
<text x="196.50" y="328.22" font-family="'Liberation Sans', sans-serif" font-size="5.32" font-weight="normal" fill="#0a0a0a" stroke="#0a0a0a" stroke-width="0.08" text-anchor="start" transform="rotate(0.04 196.50 328.22)" textLength="21.00" lengthAdjust="spacingAndGlyphs">-0.00068</text>
<text x="3.80" y="340.19" font-family="'DejaVu Sans', sans-serif" font-size="4.33" font-weight="normal" fill="#000" stroke="#000" stroke-width="0.2" text-anchor="start" transform="rotate(0.04 3.80 340.19)" textLength="38.10" lengthAdjust="spacingAndGlyphs">Packet Length Mean</text>
<text x="207.70" y="340.47" font-family="'Liberation Sans', sans-serif" font-size="5.35" font-weight="normal" fill="#0a0a0a" stroke="#0a0a0a" stroke-width="0.08" text-anchor="start" transform="rotate(0.04 207.70 340.47)" textLength="21.10" lengthAdjust="spacingAndGlyphs">-0.00049</text>
<text x="15.60" y="352.49" font-family="'DejaVu Sans', sans-serif" font-size="4.33" font-weight="normal" fill="#000" stroke="#000" stroke-width="0.2" text-anchor="start" transform="rotate(0.04 15.60 352.49)" textLength="26.30" lengthAdjust="spacingAndGlyphs">Bwd IAT Mean</text>
<text x="210.80" y="352.77" font-family="'Liberation Sans', sans-serif" font-size="5.32" font-weight="normal" fill="#0a0a0a" stroke="#0a0a0a" stroke-width="0.08" text-anchor="start" transform="rotate(0.04 210.80 352.77)" textLength="21.00" lengthAdjust="spacingAndGlyphs">-0.00044</text>
<text x="38.10" y="365.60" font-family="'Liberation Sans', sans-serif" font-size="5.82" font-weight="normal" fill="#0a0a0a" stroke="#0a0a0a" stroke-width="0.16" text-anchor="start" transform="rotate(0.04 38.10 365.60)" textLength="19.60" lengthAdjust="spacingAndGlyphs">-0.0035</text>
<text x="68.20" y="365.60" font-family="'Liberation Sans', sans-serif" font-size="5.82" font-weight="normal" fill="#0a0a0a" stroke="#0a0a0a" stroke-width="0.16" text-anchor="start" transform="rotate(0.04 68.20 365.60)" textLength="19.60" lengthAdjust="spacingAndGlyphs">-0.0030</text>
<text x="99.60" y="365.60" font-family="'Liberation Sans', sans-serif" font-size="5.82" font-weight="normal" fill="#0a0a0a" stroke="#0a0a0a" stroke-width="0.16" text-anchor="start" transform="rotate(0.04 99.60 365.60)" textLength="19.60" lengthAdjust="spacingAndGlyphs">-0.0025</text>
<text x="132.20" y="365.60" font-family="'Liberation Sans', sans-serif" font-size="5.82" font-weight="normal" fill="#0a0a0a" stroke="#0a0a0a" stroke-width="0.16" text-anchor="start" transform="rotate(0.04 132.20 365.60)" textLength="19.60" lengthAdjust="spacingAndGlyphs">-0.0020</text>
<text x="160.10" y="365.60" font-family="'Liberation Sans', sans-serif" font-size="5.82" font-weight="normal" fill="#0a0a0a" stroke="#0a0a0a" stroke-width="0.16" text-anchor="start" transform="rotate(0.04 160.10 365.60)" textLength="19.30" lengthAdjust="spacingAndGlyphs">-0.0015</text>
<text x="189.90" y="365.60" font-family="'Liberation Sans', sans-serif" font-size="5.82" font-weight="normal" fill="#0a0a0a" stroke="#0a0a0a" stroke-width="0.16" text-anchor="start" transform="rotate(0.04 189.90 365.60)" textLength="19.60" lengthAdjust="spacingAndGlyphs">-0.0010</text>
<text x="220.00" y="365.60" font-family="'Liberation Sans', sans-serif" font-size="5.82" font-weight="normal" fill="#0a0a0a" stroke="#0a0a0a" stroke-width="0.16" text-anchor="start" transform="rotate(0.04 220.00 365.60)" textLength="19.40" lengthAdjust="spacingAndGlyphs">-0.0005</text>
<text x="250.90" y="365.60" font-family="'Liberation Sans', sans-serif" font-size="5.82" font-weight="normal" fill="#0a0a0a" stroke="#0a0a0a" stroke-width="0.16" text-anchor="start" transform="rotate(0.04 250.90 365.60)" textLength="16.80" lengthAdjust="spacingAndGlyphs">0.0000</text>
<text x="132.20" y="373.17" font-family="'Liberation Sans', sans-serif" font-size="5.85" font-weight="normal" fill="#0a0a0a" stroke="#0a0a0a" stroke-width="0.16" text-anchor="start" transform="rotate(0.04 132.20 373.17)" textLength="29.10" lengthAdjust="spacingAndGlyphs">SHAP value</text>
</g>
<g>
<rect x="353.80" y="272.30" width="95.60" height="9.10" fill="#0484f9"/>
<rect x="449.40" y="285.10" width="71.50" height="9.10" fill="#fa0646"/>
<rect x="449.40" y="297.50" width="71.00" height="9.20" fill="#fa0646"/>
<rect x="449.40" y="310.70" width="66.00" height="9.00" fill="#fa0646"/>
<rect x="449.40" y="323.50" width="63.20" height="9.00" fill="#fa0646"/>
<rect x="449.40" y="336.30" width="60.20" height="9.00" fill="#fa0646"/>
<rect x="449.40" y="349.10" width="57.20" height="9.00" fill="#fa0646"/>
<text x="378.40" y="267.90" font-family="'Liberation Sans', sans-serif" font-size="6.40" font-weight="normal" fill="#0a0a0a" stroke="#0a0a0a" stroke-width="0.12" text-anchor="start" transform="rotate(0.04 378.40 267.90)" textLength="120.20" lengthAdjust="spacingAndGlyphs">Local explanation for DDoS attacks-LOIC-HTTP</text>
<text x="282.30" y="278.36" font-family="'DejaVu Sans', sans-serif" font-size="4.37" font-weight="normal" fill="#000" stroke="#000" stroke-width="0.2" text-anchor="start" transform="rotate(0.04 282.30 278.36)" textLength="44.40" lengthAdjust="spacingAndGlyphs">Fwd Packet Length Max</text>
<text x="331.70" y="278.25" font-family="'Liberation Sans', sans-serif" font-size="5.14" font-weight="normal" fill="#0a0a0a" stroke="#0a0a0a" stroke-width="0.08" text-anchor="start" transform="rotate(0.04 331.70 278.25)" textLength="20.30" lengthAdjust="spacingAndGlyphs">-0.00036</text>
<text x="302.40" y="291.16" font-family="'DejaVu Sans', sans-serif" font-size="4.37" font-weight="normal" fill="#000" stroke="#000" stroke-width="0.2" text-anchor="start" transform="rotate(0.04 302.40 291.16)" textLength="24.30" lengthAdjust="spacingAndGlyphs">Bwd IAT Max</text>
<text x="522.40" y="291.02" font-family="'Liberation Sans', sans-serif" font-size="5.06" font-weight="normal" fill="#0a0a0a" stroke="#0a0a0a" stroke-width="0.05" text-anchor="start" transform="rotate(0.04 522.40 291.02)" textLength="18.30" lengthAdjust="spacingAndGlyphs">0.00027</text>
<text x="299.90" y="304.06" font-family="'DejaVu Sans', sans-serif" font-size="4.37" font-weight="normal" fill="#000" stroke="#000" stroke-width="0.2" text-anchor="start" transform="rotate(0.04 299.90 304.06)" textLength="26.80" lengthAdjust="spacingAndGlyphs">Bwd Packets/s</text>
<text x="521.60" y="303.03" font-family="'Liberation Sans', sans-serif" font-size="5.09" font-weight="normal" fill="#0a0a0a" stroke="#0a0a0a" stroke-width="0.05" text-anchor="start" transform="rotate(0.04 521.60 303.03)" textLength="18.40" lengthAdjust="spacingAndGlyphs">0.00027</text>
<text x="304.40" y="316.71" font-family="'DejaVu Sans', sans-serif" font-size="4.37" font-weight="normal" fill="#000" stroke="#000" stroke-width="0.2" text-anchor="start" transform="rotate(0.04 304.40 316.71)" textLength="22.30" lengthAdjust="spacingAndGlyphs">Fwd IAT Std</text>
<text x="516.10" y="316.57" font-family="'Liberation Sans', sans-serif" font-size="5.06" font-weight="normal" fill="#0a0a0a" stroke="#0a0a0a" stroke-width="0.05" text-anchor="start" transform="rotate(0.04 516.10 316.57)" textLength="18.30" lengthAdjust="spacingAndGlyphs">0.00025</text>
<text x="301.90" y="329.51" font-family="'DejaVu Sans', sans-serif" font-size="4.37" font-weight="normal" fill="#000" stroke="#000" stroke-width="0.2" text-anchor="start" transform="rotate(0.04 301.90 329.51)" textLength="24.80" lengthAdjust="spacingAndGlyphs">Fwd IAT Total</text>
<text x="514.40" y="329.37" font-family="'Liberation Sans', sans-serif" font-size="5.06" font-weight="normal" fill="#0a0a0a" stroke="#0a0a0a" stroke-width="0.05" text-anchor="start" transform="rotate(0.04 514.40 329.37)" textLength="18.30" lengthAdjust="spacingAndGlyphs">0.00024</text>
<text x="297.30" y="342.31" font-family="'DejaVu Sans', sans-serif" font-size="4.37" font-weight="normal" fill="#000" stroke="#000" stroke-width="0.2" text-anchor="start" transform="rotate(0.04 297.30 342.31)" textLength="29.40" lengthAdjust="spacingAndGlyphs">ACK Flag Count</text>
<text x="510.10" y="342.17" font-family="'Liberation Sans', sans-serif" font-size="5.06" font-weight="normal" fill="#0a0a0a" stroke="#0a0a0a" stroke-width="0.05" text-anchor="start" transform="rotate(0.04 510.10 342.17)" textLength="18.30" lengthAdjust="spacingAndGlyphs">0.00023</text>
<text x="301.90" y="355.11" font-family="'DejaVu Sans', sans-serif" font-size="4.37" font-weight="normal" fill="#000" stroke="#000" stroke-width="0.2" text-anchor="start" transform="rotate(0.04 301.90 355.11)" textLength="24.80" lengthAdjust="spacingAndGlyphs">Flow IAT Max</text>
<text x="508.60" y="354.97" font-family="'Liberation Sans', sans-serif" font-size="5.06" font-weight="normal" fill="#0a0a0a" stroke="#0a0a0a" stroke-width="0.05" text-anchor="start" transform="rotate(0.04 508.60 354.97)" textLength="18.30" lengthAdjust="spacingAndGlyphs">0.00021</text>
<text x="329.40" y="370.41" font-family="'Liberation Sans', sans-serif" font-size="5.87" font-weight="normal" fill="#0a0a0a" stroke="#0a0a0a" stroke-width="0.16" text-anchor="start" transform="rotate(0.04 329.40 370.41)" textLength="19.90" lengthAdjust="spacingAndGlyphs">-0.0004</text>
<text x="358.30" y="370.41" font-family="'Liberation Sans', sans-serif" font-size="5.87" font-weight="normal" fill="#0a0a0a" stroke="#0a0a0a" stroke-width="0.16" text-anchor="start" transform="rotate(0.04 358.30 370.41)" textLength="19.80" lengthAdjust="spacingAndGlyphs">-0.0003</text>
<text x="387.10" y="370.41" font-family="'Liberation Sans', sans-serif" font-size="5.87" font-weight="normal" fill="#0a0a0a" stroke="#0a0a0a" stroke-width="0.16" text-anchor="start" transform="rotate(0.04 387.10 370.41)" textLength="19.60" lengthAdjust="spacingAndGlyphs">-0.0002</text>
<text x="414.00" y="370.41" font-family="'Liberation Sans', sans-serif" font-size="5.87" font-weight="normal" fill="#0a0a0a" stroke="#0a0a0a" stroke-width="0.16" text-anchor="start" transform="rotate(0.04 414.00 370.41)" textLength="18.60" lengthAdjust="spacingAndGlyphs">-0.0001</text>
<text x="444.10" y="370.41" font-family="'Liberation Sans', sans-serif" font-size="5.87" font-weight="normal" fill="#0a0a0a" stroke="#0a0a0a" stroke-width="0.16" text-anchor="start" transform="rotate(0.04 444.10 370.41)" textLength="16.80" lengthAdjust="spacingAndGlyphs">0.0000</text>
<text x="470.50" y="370.41" font-family="'Liberation Sans', sans-serif" font-size="5.87" font-weight="normal" fill="#0a0a0a" stroke="#0a0a0a" stroke-width="0.16" text-anchor="start" transform="rotate(0.04 470.50 370.41)" textLength="16.80" lengthAdjust="spacingAndGlyphs">0.0001</text>
<text x="496.50" y="370.41" font-family="'Liberation Sans', sans-serif" font-size="5.87" font-weight="normal" fill="#0a0a0a" stroke="#0a0a0a" stroke-width="0.16" text-anchor="start" transform="rotate(0.04 496.50 370.41)" textLength="17.10" lengthAdjust="spacingAndGlyphs">0.0002</text>
<text x="522.40" y="370.41" font-family="'Liberation Sans', sans-serif" font-size="5.87" font-weight="normal" fill="#0a0a0a" stroke="#0a0a0a" stroke-width="0.16" text-anchor="start" transform="rotate(0.04 522.40 370.41)" textLength="17.00" lengthAdjust="spacingAndGlyphs">0.0003</text>
<text x="430.30" y="378.29" font-family="'Liberation Sans', sans-serif" font-size="5.91" font-weight="normal" fill="#0a0a0a" stroke="#0a0a0a" stroke-width="0.16" text-anchor="start" transform="rotate(0.04 430.30 378.29)" textLength="29.40" lengthAdjust="spacingAndGlyphs">SHAP value</text>
</g>
<g>
<rect x="74.00" y="397.00" width="125.50" height="9.10" fill="#0484f9"/>
<rect x="148.50" y="409.60" width="51.00" height="8.80" fill="#0484f9"/>
<rect x="155.30" y="421.90" width="44.20" height="8.80" fill="#0484f9"/>
<rect x="155.80" y="434.20" width="43.70" height="8.80" fill="#0484f9"/>
<rect x="199.50" y="446.70" width="41.40" height="8.80" fill="#fa0646"/>
<rect x="199.50" y="459.00" width="40.60" height="8.80" fill="#fa0646"/>
<rect x="199.50" y="471.30" width="39.60" height="8.80" fill="#fa0646"/>
<text x="104.10" y="392.50" font-family="'Liberation Sans', sans-serif" font-size="6.40" font-weight="normal" fill="#0a0a0a" stroke="#0a0a0a" stroke-width="0.12" text-anchor="start" transform="rotate(0.04 104.10 392.50)" textLength="88.60" lengthAdjust="spacingAndGlyphs">Local explanation for Infilteration</text>
<text x="16.30" y="403.14" font-family="'DejaVu Sans', sans-serif" font-size="4.33" font-weight="normal" fill="#000" stroke="#000" stroke-width="0.2" text-anchor="start" transform="rotate(0.04 16.30 403.14)" textLength="30.60" lengthAdjust="spacingAndGlyphs">Destination Port</text>
<text x="52.20" y="402.78" font-family="'Liberation Sans', sans-serif" font-size="5.22" font-weight="normal" fill="#0a0a0a" stroke="#0a0a0a" stroke-width="0.08" text-anchor="start" transform="rotate(0.04 52.20 402.78)" textLength="20.60" lengthAdjust="spacingAndGlyphs">-0.00473</text>
<text x="22.60" y="415.59" font-family="'DejaVu Sans', sans-serif" font-size="4.33" font-weight="normal" fill="#000" stroke="#000" stroke-width="0.2" text-anchor="start" transform="rotate(0.04 22.60 415.59)" textLength="24.30" lengthAdjust="spacingAndGlyphs">Flow IAT Max</text>
<text x="128.20" y="415.11" font-family="'Liberation Sans', sans-serif" font-size="4.89" font-weight="normal" fill="#0a0a0a" stroke="#0a0a0a" stroke-width="0.08" text-anchor="start" transform="rotate(0.04 128.20 415.11)" textLength="19.30" lengthAdjust="spacingAndGlyphs">-0.00191</text>
<text x="31.80" y="427.89" font-family="'DejaVu Sans', sans-serif" font-size="4.33" font-weight="normal" fill="#000" stroke="#000" stroke-width="0.2" text-anchor="start" transform="rotate(0.04 31.80 427.89)" textLength="15.10" lengthAdjust="spacingAndGlyphs">Idle Min</text>
<text x="134.00" y="427.53" font-family="'Liberation Sans', sans-serif" font-size="5.22" font-weight="normal" fill="#0a0a0a" stroke="#0a0a0a" stroke-width="0.08" text-anchor="start" transform="rotate(0.04 134.00 427.53)" textLength="20.60" lengthAdjust="spacingAndGlyphs">-0.00166</text>
<text x="24.30" y="440.19" font-family="'DejaVu Sans', sans-serif" font-size="4.33" font-weight="normal" fill="#000" stroke="#000" stroke-width="0.2" text-anchor="start" transform="rotate(0.04 24.30 440.19)" textLength="22.60" lengthAdjust="spacingAndGlyphs">Bwd IAT Min</text>
<text x="134.50" y="439.83" font-family="'Liberation Sans', sans-serif" font-size="5.22" font-weight="normal" fill="#0a0a0a" stroke="#0a0a0a" stroke-width="0.08" text-anchor="start" transform="rotate(0.04 134.50 439.83)" textLength="20.60" lengthAdjust="spacingAndGlyphs">-0.00164</text>
<text x="11.30" y="452.69" font-family="'DejaVu Sans', sans-serif" font-size="4.33" font-weight="normal" fill="#000" stroke="#000" stroke-width="0.2" text-anchor="start" transform="rotate(0.04 11.30 452.69)" textLength="35.60" lengthAdjust="spacingAndGlyphs">Subflow Bwd Bytes</text>
<text x="242.10" y="452.25" font-family="'Liberation Sans', sans-serif" font-size="5.01" font-weight="normal" fill="#0a0a0a" stroke="#0a0a0a" stroke-width="0.05" text-anchor="start" transform="rotate(0.04 242.10 452.25)" textLength="18.10" lengthAdjust="spacingAndGlyphs">0.00157</text>
<text x="3.00" y="464.99" font-family="'DejaVu Sans', sans-serif" font-size="4.33" font-weight="normal" fill="#000" stroke="#000" stroke-width="0.2" text-anchor="start" transform="rotate(0.04 3.00 464.99)" textLength="43.90" lengthAdjust="spacingAndGlyphs">Fwd Packet Length  Min</text>
<text x="241.60" y="464.55" font-family="'Liberation Sans', sans-serif" font-size="5.01" font-weight="normal" fill="#0a0a0a" stroke="#0a0a0a" stroke-width="0.05" text-anchor="start" transform="rotate(0.04 241.60 464.55)" textLength="18.10" lengthAdjust="spacingAndGlyphs">0.00154</text>
<text x="11.30" y="479.64" font-family="'DejaVu Sans', sans-serif" font-size="4.33" font-weight="normal" fill="#000" stroke="#000" stroke-width="0.2" text-anchor="start" transform="rotate(0.04 11.30 479.64)" textLength="35.60" lengthAdjust="spacingAndGlyphs">Packet Length Max</text>
<text x="240.40" y="476.84" font-family="'Liberation Sans', sans-serif" font-size="4.98" font-weight="normal" fill="#0a0a0a" stroke="#0a0a0a" stroke-width="0.05" text-anchor="start" transform="rotate(0.04 240.40 476.84)" textLength="18.00" lengthAdjust="spacingAndGlyphs">0.00151</text>
<text x="53.90" y="492.59" font-family="'Liberation Sans', sans-serif" font-size="6.37" font-weight="normal" fill="#0a0a0a" stroke="#0a0a0a" stroke-width="0.16" text-anchor="start" transform="rotate(0.04 53.90 492.59)" textLength="16.80" lengthAdjust="spacingAndGlyphs">-0.005</text>
<text x="85.30" y="492.59" font-family="'Liberation Sans', sans-serif" font-size="6.37" font-weight="normal" fill="#0a0a0a" stroke="#0a0a0a" stroke-width="0.16" text-anchor="start" transform="rotate(0.04 85.30 492.59)" textLength="17.00" lengthAdjust="spacingAndGlyphs">-0.004</text>
<text x="112.00" y="492.59" font-family="'Liberation Sans', sans-serif" font-size="6.37" font-weight="normal" fill="#0a0a0a" stroke="#0a0a0a" stroke-width="0.16" text-anchor="start" transform="rotate(0.04 112.00 492.59)" textLength="17.10" lengthAdjust="spacingAndGlyphs">-0.003</text>
<text x="138.70" y="492.59" font-family="'Liberation Sans', sans-serif" font-size="6.37" font-weight="normal" fill="#0a0a0a" stroke="#0a0a0a" stroke-width="0.16" text-anchor="start" transform="rotate(0.04 138.70 492.59)" textLength="17.50" lengthAdjust="spacingAndGlyphs">-0.002</text>
<text x="165.60" y="492.59" font-family="'Liberation Sans', sans-serif" font-size="6.37" font-weight="normal" fill="#0a0a0a" stroke="#0a0a0a" stroke-width="0.16" text-anchor="start" transform="rotate(0.04 165.60 492.59)" textLength="16.80" lengthAdjust="spacingAndGlyphs">-0.001</text>
<text x="193.20" y="492.59" font-family="'Liberation Sans', sans-serif" font-size="6.37" font-weight="normal" fill="#0a0a0a" stroke="#0a0a0a" stroke-width="0.16" text-anchor="start" transform="rotate(0.04 193.20 492.59)" textLength="15.00" lengthAdjust="spacingAndGlyphs">0.000</text>
<text x="219.50" y="492.59" font-family="'Liberation Sans', sans-serif" font-size="6.37" font-weight="normal" fill="#0a0a0a" stroke="#0a0a0a" stroke-width="0.16" text-anchor="start" transform="rotate(0.04 219.50 492.59)" textLength="15.10" lengthAdjust="spacingAndGlyphs">0.001</text>
<text x="245.90" y="492.59" font-family="'Liberation Sans', sans-serif" font-size="6.37" font-weight="normal" fill="#0a0a0a" stroke="#0a0a0a" stroke-width="0.16" text-anchor="start" transform="rotate(0.04 245.90 492.59)" textLength="15.00" lengthAdjust="spacingAndGlyphs">0.002</text>
<text x="138.00" y="500.75" font-family="'Liberation Sans', sans-serif" font-size="5.79" font-weight="normal" fill="#0a0a0a" stroke="#0a0a0a" stroke-width="0.16" text-anchor="start" transform="rotate(0.04 138.00 500.75)" textLength="28.80" lengthAdjust="spacingAndGlyphs">SHAP value</text>
</g>
<g>
<rect x="413.10" y="397.00" width="107.80" height="9.50" fill="#fa0646"/>
<rect x="413.10" y="410.30" width="103.00" height="9.10" fill="#fa0646"/>
<rect x="413.10" y="422.90" width="70.90" height="9.00" fill="#fa0646"/>
<rect x="413.10" y="435.40" width="65.60" height="9.10" fill="#fa0646"/>
<rect x="413.10" y="448.00" width="60.40" height="9.00" fill="#fa0646"/>
<rect x="355.30" y="460.50" width="57.80" height="9.00" fill="#0484f9"/>
<rect x="361.80" y="473.10" width="51.30" height="9.00" fill="#0484f9"/>
<text x="411.50" y="392.30" font-family="'Liberation Sans', sans-serif" font-size="6.40" font-weight="normal" fill="#0a0a0a" stroke="#0a0a0a" stroke-width="0.12" text-anchor="start" transform="rotate(0.04 411.50 392.30)" textLength="64.50" lengthAdjust="spacingAndGlyphs">Local explanation for Bot</text>
<text x="298.10" y="403.62" font-family="'DejaVu Sans', sans-serif" font-size="4.24" font-weight="normal" fill="#000" stroke="#000" stroke-width="0.2" text-anchor="start" transform="rotate(0.04 298.10 403.62)" textLength="30.10" lengthAdjust="spacingAndGlyphs">Destination Port</text>
<text x="522.40" y="403.20" font-family="'Liberation Sans', sans-serif" font-size="5.01" font-weight="normal" fill="#0a0a0a" stroke="#0a0a0a" stroke-width="0.05" text-anchor="start" transform="rotate(0.04 522.40 403.20)" textLength="18.10" lengthAdjust="spacingAndGlyphs">0.00040</text>
<text x="284.80" y="416.12" font-family="'DejaVu Sans', sans-serif" font-size="4.24" font-weight="normal" fill="#000" stroke="#000" stroke-width="0.2" text-anchor="start" transform="rotate(0.04 284.80 416.12)" textLength="43.40" lengthAdjust="spacingAndGlyphs">Packet Length Variance</text>
<text x="517.40" y="415.89" font-family="'Liberation Sans', sans-serif" font-size="4.98" font-weight="normal" fill="#0a0a0a" stroke="#0a0a0a" stroke-width="0.05" text-anchor="start" transform="rotate(0.04 517.40 415.89)" textLength="18.00" lengthAdjust="spacingAndGlyphs">0.00038</text>
<text x="305.40" y="428.67" font-family="'DejaVu Sans', sans-serif" font-size="4.24" font-weight="normal" fill="#000" stroke="#000" stroke-width="0.2" text-anchor="start" transform="rotate(0.04 305.40 428.67)" textLength="22.80" lengthAdjust="spacingAndGlyphs">Flow Bytes/s</text>
<text x="486.50" y="428.47" font-family="'Liberation Sans', sans-serif" font-size="5.06" font-weight="normal" fill="#0a0a0a" stroke="#0a0a0a" stroke-width="0.05" text-anchor="start" transform="rotate(0.04 486.50 428.47)" textLength="18.30" lengthAdjust="spacingAndGlyphs">0.00026</text>
<text x="281.50" y="441.22" font-family="'DejaVu Sans', sans-serif" font-size="4.24" font-weight="normal" fill="#000" stroke="#000" stroke-width="0.2" text-anchor="start" transform="rotate(0.04 281.50 441.22)" textLength="46.70" lengthAdjust="spacingAndGlyphs">Init_Win_bytes_backward</text>
<text x="479.70" y="441.03" font-family="'Liberation Sans', sans-serif" font-size="5.09" font-weight="normal" fill="#0a0a0a" stroke="#0a0a0a" stroke-width="0.05" text-anchor="start" transform="rotate(0.04 479.70 441.03)" textLength="18.40" lengthAdjust="spacingAndGlyphs">0.00024</text>
<text x="305.40" y="453.77" font-family="'DejaVu Sans', sans-serif" font-size="4.24" font-weight="normal" fill="#000" stroke="#000" stroke-width="0.2" text-anchor="start" transform="rotate(0.04 305.40 453.77)" textLength="22.80" lengthAdjust="spacingAndGlyphs">Flow IAT Min</text>
<text x="474.20" y="453.55" font-family="'Liberation Sans', sans-serif" font-size="5.01" font-weight="normal" fill="#0a0a0a" stroke="#0a0a0a" stroke-width="0.05" text-anchor="start" transform="rotate(0.04 474.20 453.55)" textLength="18.10" lengthAdjust="spacingAndGlyphs">0.00022</text>
<text x="312.90" y="466.27" font-family="'DejaVu Sans', sans-serif" font-size="4.24" font-weight="normal" fill="#000" stroke="#000" stroke-width="0.2" text-anchor="start" transform="rotate(0.04 312.90 466.27)" textLength="15.30" lengthAdjust="spacingAndGlyphs">Idle Max</text>
<text x="334.50" y="466.12" font-family="'Liberation Sans', sans-serif" font-size="5.19" font-weight="normal" fill="#0a0a0a" stroke="#0a0a0a" stroke-width="0.08" text-anchor="start" transform="rotate(0.04 334.50 466.12)" textLength="20.50" lengthAdjust="spacingAndGlyphs">-0.00021</text>
<text x="304.10" y="478.87" font-family="'DejaVu Sans', sans-serif" font-size="4.24" font-weight="normal" fill="#000" stroke="#000" stroke-width="0.2" text-anchor="start" transform="rotate(0.04 304.10 478.87)" textLength="24.10" lengthAdjust="spacingAndGlyphs">Flow IAT Max</text>
<text x="340.50" y="478.75" font-family="'Liberation Sans', sans-serif" font-size="5.27" font-weight="normal" fill="#0a0a0a" stroke="#0a0a0a" stroke-width="0.08" text-anchor="start" transform="rotate(0.04 340.50 478.75)" textLength="20.80" lengthAdjust="spacingAndGlyphs">-0.00019</text>
<text x="322.00" y="492.40" font-family="'Liberation Sans', sans-serif" font-size="5.84" font-weight="normal" fill="#0a0a0a" stroke="#0a0a0a" stroke-width="0.16" text-anchor="start" transform="rotate(0.04 322.00 492.40)" textLength="19.20" lengthAdjust="spacingAndGlyphs">-0.0003</text>
<text x="351.30" y="492.40" font-family="'Liberation Sans', sans-serif" font-size="5.84" font-weight="normal" fill="#0a0a0a" stroke="#0a0a0a" stroke-width="0.16" text-anchor="start" transform="rotate(0.04 351.30 492.40)" textLength="19.30" lengthAdjust="spacingAndGlyphs">-0.0002</text>
<text x="379.40" y="492.40" font-family="'Liberation Sans', sans-serif" font-size="5.84" font-weight="normal" fill="#0a0a0a" stroke="#0a0a0a" stroke-width="0.16" text-anchor="start" transform="rotate(0.04 379.40 492.40)" textLength="19.00" lengthAdjust="spacingAndGlyphs">-0.0001</text>
<text x="405.80" y="492.40" font-family="'Liberation Sans', sans-serif" font-size="5.84" font-weight="normal" fill="#0a0a0a" stroke="#0a0a0a" stroke-width="0.16" text-anchor="start" transform="rotate(0.04 405.80 492.40)" textLength="17.30" lengthAdjust="spacingAndGlyphs">0.0000</text>
<text x="432.10" y="492.40" font-family="'Liberation Sans', sans-serif" font-size="5.84" font-weight="normal" fill="#0a0a0a" stroke="#0a0a0a" stroke-width="0.16" text-anchor="start" transform="rotate(0.04 432.10 492.40)" textLength="16.80" lengthAdjust="spacingAndGlyphs">0.0001</text>
<text x="458.90" y="492.40" font-family="'Liberation Sans', sans-serif" font-size="5.84" font-weight="normal" fill="#0a0a0a" stroke="#0a0a0a" stroke-width="0.16" text-anchor="start" transform="rotate(0.04 458.90 492.40)" textLength="16.60" lengthAdjust="spacingAndGlyphs">0.0002</text>
<text x="485.50" y="492.40" font-family="'Liberation Sans', sans-serif" font-size="5.84" font-weight="normal" fill="#0a0a0a" stroke="#0a0a0a" stroke-width="0.16" text-anchor="start" transform="rotate(0.04 485.50 492.40)" textLength="16.80" lengthAdjust="spacingAndGlyphs">0.0003</text>
<text x="512.40" y="492.40" font-family="'Liberation Sans', sans-serif" font-size="5.84" font-weight="normal" fill="#0a0a0a" stroke="#0a0a0a" stroke-width="0.16" text-anchor="start" transform="rotate(0.04 512.40 492.40)" textLength="16.80" lengthAdjust="spacingAndGlyphs">0.0004</text>
<text x="426.90" y="500.76" font-family="'Liberation Sans', sans-serif" font-size="5.81" font-weight="normal" fill="#0a0a0a" stroke="#0a0a0a" stroke-width="0.16" text-anchor="start" transform="rotate(0.04 426.90 500.76)" textLength="28.90" lengthAdjust="spacingAndGlyphs">SHAP value</text>
</g>
<g>
<text x="53.50" y="245.90" font-family="'Liberation Sans', sans-serif" font-size="10" font-weight="bold" fill="#111" transform="rotate(0.04 57.20 245.20)" textLength="7.4" lengthAdjust="spacingAndGlyphs">...</text>
<text x="103.40" y="245.90" font-family="'Liberation Sans', sans-serif" font-size="10" font-weight="bold" fill="#111" transform="rotate(0.04 107.10 245.20)" textLength="7.4" lengthAdjust="spacingAndGlyphs">...</text>
<text x="161.10" y="245.90" font-family="'Liberation Sans', sans-serif" font-size="10" font-weight="bold" fill="#111" transform="rotate(0.04 164.80 245.20)" textLength="7.4" lengthAdjust="spacingAndGlyphs">...</text>
<text x="211.30" y="245.90" font-family="'Liberation Sans', sans-serif" font-size="10" font-weight="bold" fill="#111" transform="rotate(0.04 215.00 245.20)" textLength="7.4" lengthAdjust="spacingAndGlyphs">...</text>
<text x="332.80" y="245.90" font-family="'Liberation Sans', sans-serif" font-size="10" font-weight="bold" fill="#111" transform="rotate(0.04 336.50 245.20)" textLength="7.4" lengthAdjust="spacingAndGlyphs">...</text>
<text x="382.90" y="245.90" font-family="'Liberation Sans', sans-serif" font-size="10" font-weight="bold" fill="#111" transform="rotate(0.04 386.60 245.20)" textLength="7.4" lengthAdjust="spacingAndGlyphs">...</text>
<text x="440.90" y="245.90" font-family="'Liberation Sans', sans-serif" font-size="10" font-weight="bold" fill="#111" transform="rotate(0.04 444.60 245.20)" textLength="7.4" lengthAdjust="spacingAndGlyphs">...</text>
<text x="490.60" y="245.90" font-family="'Liberation Sans', sans-serif" font-size="10" font-weight="bold" fill="#111" transform="rotate(0.04 494.30 245.20)" textLength="7.4" lengthAdjust="spacingAndGlyphs">...</text>
</g>
</g>
<g>
<g>
<line x1="47.8" y1="10" x2="47.8" y2="94.0" stroke="#a8a8a8" stroke-width="1.2"/>
<line x1="47.199999999999996" y1="94.0" x2="258" y2="94.0" stroke="#505050" stroke-width="1.1"/>
<line x1="62.40" y1="94.0" x2="62.40" y2="95.4" stroke="#505050" stroke-width="0.6"/>
<line x1="99.60" y1="94.0" x2="99.60" y2="95.4" stroke="#505050" stroke-width="0.6"/>
<line x1="136.80" y1="94.0" x2="136.80" y2="95.4" stroke="#505050" stroke-width="0.6"/>
<line x1="174.00" y1="94.0" x2="174.00" y2="95.4" stroke="#505050" stroke-width="0.6"/>
<line x1="211.20" y1="94.0" x2="211.20" y2="95.4" stroke="#505050" stroke-width="0.6"/>
<line x1="248.40" y1="94.0" x2="248.40" y2="95.4" stroke="#505050" stroke-width="0.6"/>
</g>
<g>
<line x1="322.7" y1="9.5" x2="322.7" y2="90.4" stroke="#b4b4b4" stroke-width="1.0"/>
<line x1="322.2" y1="90.4" x2="525.4" y2="90.4" stroke="#9a9a9a" stroke-width="1.0"/>
<line x1="323.90" y1="90.4" x2="323.90" y2="91.80000000000001" stroke="#9a9a9a" stroke-width="0.6"/>
<line x1="350.20" y1="90.4" x2="350.20" y2="91.80000000000001" stroke="#9a9a9a" stroke-width="0.6"/>
<line x1="376.50" y1="90.4" x2="376.50" y2="91.80000000000001" stroke="#9a9a9a" stroke-width="0.6"/>
<line x1="402.80" y1="90.4" x2="402.80" y2="91.80000000000001" stroke="#9a9a9a" stroke-width="0.6"/>
<line x1="429.10" y1="90.4" x2="429.10" y2="91.80000000000001" stroke="#9a9a9a" stroke-width="0.6"/>
<line x1="455.40" y1="90.4" x2="455.40" y2="91.80000000000001" stroke="#9a9a9a" stroke-width="0.6"/>
<line x1="481.70" y1="90.4" x2="481.70" y2="91.80000000000001" stroke="#9a9a9a" stroke-width="0.6"/>
<line x1="508.00" y1="90.4" x2="508.00" y2="91.80000000000001" stroke="#9a9a9a" stroke-width="0.6"/>
</g>
<g>
<line x1="50.6" y1="124.5" x2="50.6" y2="207.1" stroke="#7a7a7a" stroke-width="0.8"/>
<line x1="50.2" y1="207.1" x2="255.9" y2="207.1" stroke="#959595" stroke-width="1.3"/>
<line x1="58.20" y1="207.1" x2="58.20" y2="208.5" stroke="#959595" stroke-width="0.6"/>
<line x1="92.90" y1="207.1" x2="92.90" y2="208.5" stroke="#959595" stroke-width="0.6"/>
<line x1="127.60" y1="207.1" x2="127.60" y2="208.5" stroke="#959595" stroke-width="0.6"/>
<line x1="162.30" y1="207.1" x2="162.30" y2="208.5" stroke="#959595" stroke-width="0.6"/>
<line x1="197.00" y1="207.1" x2="197.00" y2="208.5" stroke="#959595" stroke-width="0.6"/>
<line x1="231.70" y1="207.1" x2="231.70" y2="208.5" stroke="#959595" stroke-width="0.6"/>
</g>
<g>
<line x1="314.8" y1="127.6" x2="314.8" y2="217.3" stroke="#a8a8a8" stroke-width="1.0"/>
<line x1="314.3" y1="217.3" x2="539.2" y2="217.3" stroke="#777777" stroke-width="1.0"/>
<line x1="327.40" y1="217.3" x2="327.40" y2="218.70000000000002" stroke="#777777" stroke-width="0.6"/>
<line x1="360.00" y1="217.3" x2="360.00" y2="218.70000000000002" stroke="#777777" stroke-width="0.6"/>
<line x1="392.70" y1="217.3" x2="392.70" y2="218.70000000000002" stroke="#777777" stroke-width="0.6"/>
<line x1="425.50" y1="217.3" x2="425.50" y2="218.70000000000002" stroke="#777777" stroke-width="0.6"/>
<line x1="458.10" y1="217.3" x2="458.10" y2="218.70000000000002" stroke="#777777" stroke-width="0.6"/>
<line x1="490.80" y1="217.3" x2="490.80" y2="218.70000000000002" stroke="#777777" stroke-width="0.6"/>
<line x1="523.40" y1="217.3" x2="523.40" y2="218.70000000000002" stroke="#777777" stroke-width="0.6"/>
</g>
<g>
<line x1="43.8" y1="268.1" x2="43.8" y2="359.3" stroke="#999999" stroke-width="1.0"/>
<line x1="43.3" y1="359.3" x2="259.9" y2="359.3" stroke="#888888" stroke-width="1.0"/>
<line x1="259.90" y1="359.3" x2="259.90" y2="360.7" stroke="#888888" stroke-width="0.6"/>
<line x1="230.05" y1="359.3" x2="230.05" y2="360.7" stroke="#888888" stroke-width="0.6"/>
<line x1="200.20" y1="359.3" x2="200.20" y2="360.7" stroke="#888888" stroke-width="0.6"/>
<line x1="170.35" y1="359.3" x2="170.35" y2="360.7" stroke="#888888" stroke-width="0.6"/>
<line x1="140.50" y1="359.3" x2="140.50" y2="360.7" stroke="#888888" stroke-width="0.6"/>
<line x1="110.65" y1="359.3" x2="110.65" y2="360.7" stroke="#888888" stroke-width="0.6"/>
<line x1="80.80" y1="359.3" x2="80.80" y2="360.7" stroke="#888888" stroke-width="0.6"/>
<line x1="50.95" y1="359.3" x2="50.95" y2="360.7" stroke="#888888" stroke-width="0.6"/>
</g>
<g>
<line x1="328.4" y1="268.1" x2="328.4" y2="362.5" stroke="#888888" stroke-width="0.9"/>
<line x1="327.95" y1="362.5" x2="545" y2="362.5" stroke="#a0a0a0" stroke-width="0.9"/>
<line x1="344.40" y1="362.5" x2="344.40" y2="363.9" stroke="#a0a0a0" stroke-width="0.6"/>
<line x1="371.50" y1="362.5" x2="371.50" y2="363.9" stroke="#a0a0a0" stroke-width="0.6"/>
<line x1="398.60" y1="362.5" x2="398.60" y2="363.9" stroke="#a0a0a0" stroke-width="0.6"/>
<line x1="425.70" y1="362.5" x2="425.70" y2="363.9" stroke="#a0a0a0" stroke-width="0.6"/>
<line x1="452.80" y1="362.5" x2="452.80" y2="363.9" stroke="#a0a0a0" stroke-width="0.6"/>
<line x1="479.90" y1="362.5" x2="479.90" y2="363.9" stroke="#a0a0a0" stroke-width="0.6"/>
<line x1="507.00" y1="362.5" x2="507.00" y2="363.9" stroke="#a0a0a0" stroke-width="0.6"/>
<line x1="534.10" y1="362.5" x2="534.10" y2="363.9" stroke="#a0a0a0" stroke-width="0.6"/>
</g>
<g>
<line x1="49.2" y1="393" x2="49.2" y2="484.2" stroke="#888888" stroke-width="0.9"/>
<line x1="48.75" y1="484.2" x2="265.9" y2="484.2" stroke="#888888" stroke-width="1.0"/>
<line x1="68.00" y1="484.2" x2="68.00" y2="485.59999999999997" stroke="#888888" stroke-width="0.6"/>
<line x1="94.30" y1="484.2" x2="94.30" y2="485.59999999999997" stroke="#888888" stroke-width="0.6"/>
<line x1="120.60" y1="484.2" x2="120.60" y2="485.59999999999997" stroke="#888888" stroke-width="0.6"/>
<line x1="146.90" y1="484.2" x2="146.90" y2="485.59999999999997" stroke="#888888" stroke-width="0.6"/>
<line x1="173.20" y1="484.2" x2="173.20" y2="485.59999999999997" stroke="#888888" stroke-width="0.6"/>
<line x1="199.50" y1="484.2" x2="199.50" y2="485.59999999999997" stroke="#888888" stroke-width="0.6"/>
<line x1="225.80" y1="484.2" x2="225.80" y2="485.59999999999997" stroke="#888888" stroke-width="0.6"/>
<line x1="252.10" y1="484.2" x2="252.10" y2="485.59999999999997" stroke="#888888" stroke-width="0.6"/>
</g>
<g>
<line x1="330.2" y1="393.8" x2="330.2" y2="485.5" stroke="#505050" stroke-width="0.9"/>
<line x1="329.75" y1="485.5" x2="550" y2="485.5" stroke="#959595" stroke-width="1.0"/>
<line x1="332.70" y1="485.5" x2="332.70" y2="486.9" stroke="#959595" stroke-width="0.6"/>
<line x1="359.50" y1="485.5" x2="359.50" y2="486.9" stroke="#959595" stroke-width="0.6"/>
<line x1="386.30" y1="485.5" x2="386.30" y2="486.9" stroke="#959595" stroke-width="0.6"/>
<line x1="413.10" y1="485.5" x2="413.10" y2="486.9" stroke="#959595" stroke-width="0.6"/>
<line x1="439.90" y1="485.5" x2="439.90" y2="486.9" stroke="#959595" stroke-width="0.6"/>
<line x1="466.70" y1="485.5" x2="466.70" y2="486.9" stroke="#959595" stroke-width="0.6"/>
<line x1="493.50" y1="485.5" x2="493.50" y2="486.9" stroke="#959595" stroke-width="0.6"/>
<line x1="520.30" y1="485.5" x2="520.30" y2="486.9" stroke="#959595" stroke-width="0.6"/>
</g>
<line x1="320.5" y1="116.9" x2="323.5" y2="116.9" stroke="#c4c4c4" stroke-width="0.7"/>
</g>
</svg>
</body>
</html>
